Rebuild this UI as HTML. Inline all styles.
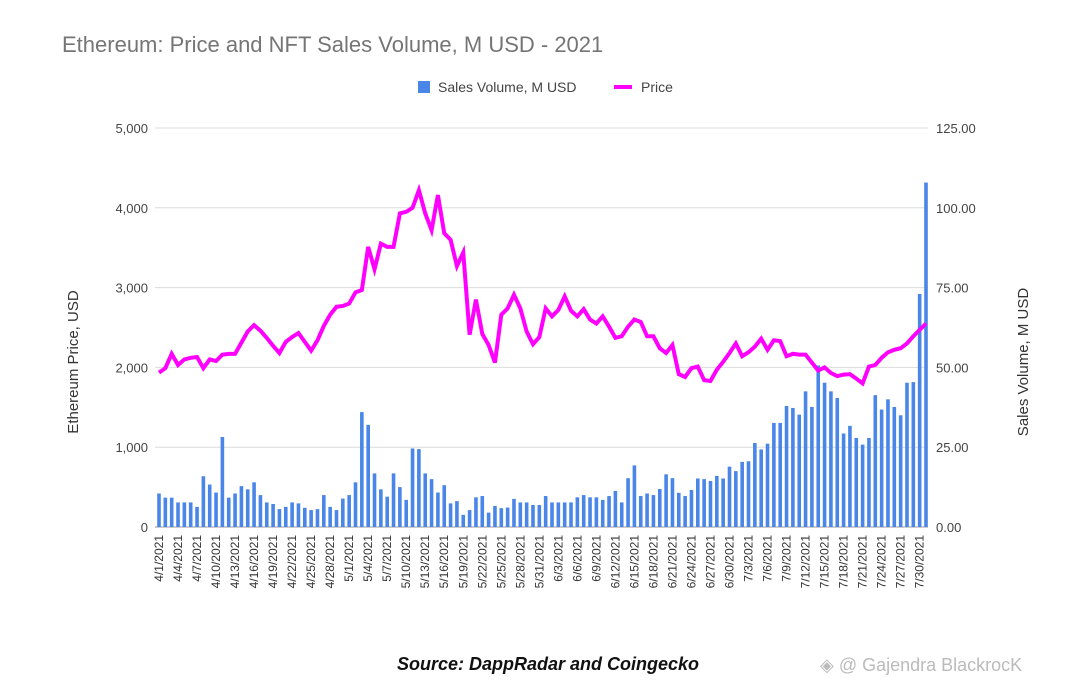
<!DOCTYPE html>
<html><head><meta charset="utf-8"><style>
body{margin:0;background:#fff;width:1080px;height:690px;overflow:hidden;font-family:"Liberation Sans",sans-serif}
svg{display:block}
</style></head><body>
<svg width="1080" height="690" viewBox="0 0 1080 690" id="chart">
<text x="62" y="52" font-size="22" fill="#757575">Ethereum: Price and NFT Sales Volume, M USD - 2021</text>
<g>
<rect x="418" y="81" width="12" height="12" fill="#4a86e8"/>
<text x="438" y="92" font-size="14" fill="#444">Sales Volume, M USD</text>
<rect x="614" y="85" width="18" height="4" fill="#ff00ff"/>
<text x="641" y="92" font-size="14" fill="#444">Price</text>
</g>
<g id="grid"></g><g id="bars"></g><g id="line"></g><g id="xlabels"></g>
<text transform="translate(78,362) rotate(-90)" text-anchor="middle" font-size="15" fill="#333">Ethereum Price, USD</text>
<text transform="translate(1028,362) rotate(-90)" text-anchor="middle" font-size="15" fill="#333">Sales Volume, M USD</text>
<text x="548" y="670" text-anchor="middle" font-size="18" font-weight="bold" font-style="italic" fill="#111">Source: DappRadar and Coingecko</text>
<text x="820" y="671" font-size="18" fill="#bbb">◈ @ Gajendra BlackrocK</text>
</svg>
<script>
const price=[1934,1990,2170,2030,2100,2120,2130,1990,2100,2080,2160,2170,2170,2310,2450,2530,2460,2370,2270,2180,2320,2380,2430,2320,2210,2340,2520,2660,2760,2770,2800,2940,2970,3510,3230,3550,3510,3510,3930,3950,4000,4220,3930,3720,4160,3680,3600,3270,3440,2410,2850,2420,2280,2060,2660,2740,2910,2740,2450,2290,2380,2740,2640,2720,2890,2710,2640,2730,2600,2550,2640,2510,2370,2390,2510,2600,2570,2390,2390,2240,2180,2280,1915,1880,1990,2010,1840,1830,1970,2070,2180,2300,2140,2190,2260,2360,2220,2340,2330,2140,2170,2160,2160,2060,1960,2000,1930,1890,1910,1915,1860,1800,2010,2030,2120,2190,2220,2240,2300,2390,2470,2550];
const sales=[10.5,9.2,9.2,7.7,7.7,7.7,6.3,15.9,13.3,10.8,28.2,9.2,10.5,12.8,11.8,14,10,7.7,7.2,5.6,6.3,7.7,7.4,6,5.3,5.6,10,6.3,5.3,8.9,10,14,36,32,16.8,11.8,9.5,16.8,12.5,8.5,24.6,24.4,16.8,15,10.8,13.1,7.4,8.1,3.8,5.3,9.3,9.7,4.5,6.6,5.9,6.1,8.8,7.7,7.7,6.9,6.9,9.7,7.7,7.7,7.7,7.7,9.3,10,9.3,9.3,8.5,9.7,11.3,7.7,15.3,19.3,9.7,10.5,10,11.9,16.5,15.3,10.7,9.7,11.6,15.2,15,14.4,16,15.2,18.9,17.5,20.4,20.6,26.3,24.3,26.1,32.6,32.6,37.9,37.3,35.2,42.5,37.6,50.6,45.2,42.5,40.4,29.3,31.7,27.9,25.8,27.9,41.3,36.8,40,37.6,35,45.2,45.4,73,107.9];
const leftTicks=["0","1,000","2,000","3,000","4,000","5,000"];
const rightTicks=["0.00","25.00","50.00","75.00","100.00","125.00"];
const startDate=[2021,3,1];
const NS="http://www.w3.org/2000/svg";
const y0=527,yTop=128;
const yP=v=>y0-(v/5000)*(y0-yTop);
const yS=v=>y0-(v/125)*(y0-yTop);
const n=sales.length;
const xI=i=>159+i*(926-159)/(n-1);
function mk(t,a,p){const e=document.createElementNS(NS,t);for(const k in a)e.setAttribute(k,a[k]);document.getElementById(p).appendChild(e);return e;}
leftTicks.forEach((t,i)=>{const y=yP(i*1000);
 const l=mk('line',{x1:155,x2:928,y1:y,y2:y,stroke:i?'#dcdcdc':'#999','stroke-width':1},'grid');
 
 
 const a=mk('text',{x:148,y:y+5,'text-anchor':'end','font-size':13,fill:'#444'},'grid');a.textContent=t;
 
 
 const b=mk('text',{x:936,y:y+5,'font-size':13,fill:'#444'},'grid');b.textContent=rightTicks[i];
 
 
});
sales.forEach((v,i)=>{const r=mk('rect',{x:xI(i)-1.8,y:yS(v),width:3.6,height:y0-yS(v),fill:'#4a86e8'},'bars');
 
 });
const pl=mk('polyline',{points:price.map((v,i)=>xI(i)+','+yP(v)).join(' '),fill:'none',stroke:'#ff00ff','stroke-width':4,'stroke-linejoin':'miter'},'line');


for(let i=0;i<n;i+=3){const d=new Date(startDate[0],startDate[1],startDate[2]+i);
 const s=(d.getMonth()+1)+'/'+d.getDate()+'/'+d.getFullYear();
 const x=xI(i)+4;
 const t=mk('text',{transform:`translate(${x},535) rotate(-90)`,'text-anchor':'end','font-size':12,fill:'#333'},'xlabels');t.textContent=s;
 
 }
</script>
</body></html>
